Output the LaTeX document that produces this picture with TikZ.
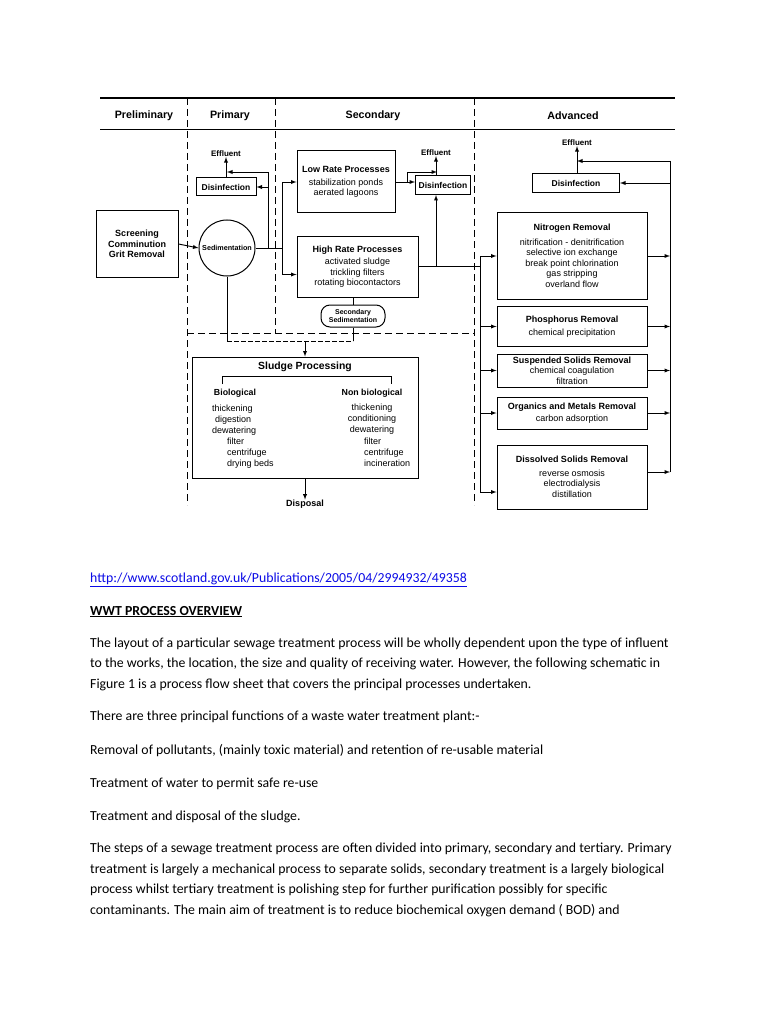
\documentclass[tikz,border=0pt]{standalone}
\usepackage{fontspec}
\setmainfont{Carlito}
\newfontfamily\diagfont{Liberation Sans}
\usepackage{xcolor}
\usepackage{tikz}
\usetikzlibrary{arrows}
\definecolor{urlblue}{RGB}{10,10,230}

\begin{document}
\begin{tikzpicture}[x=1pt,y=-1pt,>=latex,
	box/.style={draw,line width=1pt,inner sep=0pt,align=center,font=\diagfont\fontsize{9}{10.5}\selectfont},
	bbox/.style={box,font=\diagfont\bfseries\fontsize{8.5}{10}\selectfont},
	lbl/.style={inner sep=0pt,font=\diagfont\bfseries\fontsize{8}{9}\selectfont},
	head/.style={inner sep=0pt,font=\diagfont\bfseries\fontsize{10.7}{12}\selectfont},
	item/.style={inner sep=0pt,align=left,font=\diagfont\fontsize{9}{11}\selectfont},
	flow/.style={line width=0.9pt},
	zone/.style={line width=0.8pt,dash pattern=on 7pt off 4pt},
	para/.style={anchor=base west,inner sep=0pt,align=left,font=\fontsize{13.8}{20.5}\selectfont}]
		\useasboundingbox[fill=white] (0,0) rectangle (768,1024);
		%
		\draw[line width=1.4pt] (100,98) -- (675,98);
		\draw[line width=1pt] (100,130) -- (675,130);
		\draw[zone] (187,98) -- (187,505);
		\draw[zone] (275,98) -- (275,333);
		\draw[zone] (187,333) -- (474,333);
		\draw[zone] (474,98) -- (474,505);
		\node[head] (hpre) at (144,116) {Preliminary};
		\node[head] (hpri) at (230,116) {Primary};
		\node[head] (hsec) at (373,116) {Secondary};
		\node[head] (hadv) at (573,116) {Advanced};
		%
		\node[bbox,font=\diagfont\bfseries\fontsize{9}{10.5}\selectfont,minimum width=82pt,minimum height=66pt] (screen) at (137,244) {Screening\\Comminution\\Grit Removal};
		\node[draw,circle,line width=1pt,minimum size=56pt,inner sep=0pt,font=\diagfont\bfseries\fontsize{7.2}{8}\selectfont] (sed) at (227,248) {Sedimentation};
		\node[bbox,minimum width=60pt,minimum height=18pt] (dis1) at (226,187) {Disinfection};
		\node[lbl] (eff1) at (226,154) {Effluent};
		\node[box,minimum width=98pt,minimum height=62pt] (low) at (346,182) {\textbf{Low Rate Processes}\\[2pt]stabilization ponds\\aerated lagoons};
		\node[box,minimum width=121pt,minimum height=61pt] (high) at (357.5,266.5) {\textbf{High Rate Processes}\\[2pt]activated sludge\\trickling filters\\rotating biocontactors};
		\node[bbox,rounded corners=9pt,font=\diagfont\bfseries\fontsize{7}{8.3}\selectfont,minimum width=64pt,minimum height=22pt] (secsed) at (353,316) {Secondary\\Sedimentation};
		\node[bbox,minimum width=55pt,minimum height=19pt] (dis2) at (443,185) {Disinfection};
		\node[lbl] (eff2) at (436,153) {Effluent};
		\node[bbox,minimum width=87pt,minimum height=19pt] (dis3) at (576,183) {Disinfection};
		\node[lbl] (eff3) at (577,143) {Effluent};
		\node[box,minimum width=150pt,minimum height=86pt] (nitro) at (572,256) {\textbf{Nitrogen Removal}\\[4pt]nitrification - denitrification\\selective ion exchange\\break point chlorination\\gas stripping\\overland flow};
		\node[box,minimum width=150pt,minimum height=40pt] (phos) at (572,326.5) {\textbf{Phosphorus Removal}\\[3pt]chemical precipitation};
		\node[box,minimum width=150pt,minimum height=33pt] (susp) at (572,370.5) {\textbf{Suspended Solids Removal}\\chemical coagulation\\filtration};
		\node[box,minimum width=150pt,minimum height=32pt] (org) at (572,413) {\textbf{Organics and Metals Removal}\\[2pt]carbon adsorption};
		\node[box,minimum width=150pt,minimum height=64pt] (diss) at (572,477) {\textbf{Dissolved Solids Removal}\\[3pt]reverse osmosis\\electrodialysis\\distillation};
		%
		\node[box,minimum width=226pt,minimum height=121pt] (sludge) at (305,417.5) {};
		\node[inner sep=0pt,font=\diagfont\bfseries\fontsize{10.4}{12}\selectfont] (sltitle) at (305,367) {Sludge Processing};
		\draw[line width=0.9pt] (222,384) -- (222,376) -- (391,376) -- (391,384);
		\node[lbl,font=\diagfont\bfseries\fontsize{8.8}{10}\selectfont] (bio) at (235,393) {Biological};
		\node[item,anchor=base west] (biolist) at (212,466) {thickening\\\hspace{3pt}digestion\\dewatering\\\hspace{15pt}filter\\\hspace{15pt}centrifuge\\\hspace{15pt}drying beds};
		\node[lbl,font=\diagfont\bfseries\fontsize{8.8}{10}\selectfont] (nonbio) at (372,393) {Non biological};
		\node[item,align=center,anchor=base] (nonlist) at (372,432) {thickening\\conditioning\\dewatering};
		\node[item,anchor=base west] (nonlist2) at (364,466) {filter\\centrifuge\\incineration};
		\node[lbl,font=\diagfont\bfseries\fontsize{9}{10}\selectfont] (disp) at (305,504) {Disposal};
		%
		\coordinate (s1) at (268,248);
		\coordinate (s2) at (282,248);
		\coordinate (e1) at (227,172);
		\coordinate (s3) at (407,182);
		\coordinate (e2) at (437,172);
		\coordinate (r1) at (227,341);
		\coordinate (r2) at (353,341);
		\coordinate (t0) at (480,256);
		\coordinate (tb) at (480,492);
		\coordinate (ct) at (670,161);
		\coordinate (cb) at (670,472);
		%
		\draw[flow,->] (screen.east) -- (sed.west);
		\draw[flow] (sed.east) -- (s2);
		\draw[flow,->] (s1) |- (e1);
		\draw[flow,->] (s1 |- dis1.east) -- (dis1.east);
		\draw[flow,->] (dis1.north) -- (eff1.south);
		\draw[flow,->] (s2) |- (low.west);
		\draw[flow,->] (s2) |- ([yshift=-8pt]high.west);
		\draw[flow] (secsed.north |- high.south) -- (secsed.north);
		\draw[flow] (sed.south) -- (r1);
		\draw[flow,dash pattern=on 5pt off 2pt] (r1) -- (r2);
		\draw[flow] (r2) -- (secsed.south);
		\draw[flow,->] (sludge.north |- r1) -- (sludge.north);
		\draw[flow,->] (sludge.south) -- (disp.north);
		%
		\draw[flow,->] (low.east) -- (low.east -| dis2.west);
		\draw[flow,->] (s3) |- (e2);
		\draw[flow,->] (dis2.north -| eff2) -- (eff2.south);
		\draw[flow] (high.east) -- (high.east -| t0);
		\draw[flow,->] (high.east -| eff2) -- (dis2.south -| eff2);
		%
		\draw[flow] (t0) -- (tb);
		\draw[flow,->] (t0) -- (nitro.west);
		\draw[flow,->] (t0 |- phos.west) -- (phos.west);
		\draw[flow,->] (t0 |- susp.west) -- (susp.west);
		\draw[flow,->] (t0 |- org.west) -- (org.west);
		\draw[flow,->] (tb) -- (tb -| diss.west);
		\draw[flow] (ct) -- (cb);
		\draw[flow,->] (nitro.east) -- (nitro.east -| ct);
		\draw[flow,->] (phos.east) -- (phos.east -| ct);
		\draw[flow,->] (susp.east) -- (susp.east -| ct);
		\draw[flow,->] (org.east) -- (org.east -| ct);
		\draw[flow,->] (cb -| diss.east) -- (cb);
		\draw[flow,->] (ct) -- (ct -| eff3);
		\draw[flow,->] (ct |- dis3.east) -- (dis3.east);
		\draw[flow,->] (dis3.north -| eff3) -- (eff3.south);
		%
		\node[para,text=urlblue] (url) at (90,582) {\underline{http://www.scotland.gov.uk/Publications/2005/04/2994932/49358}};
		\node[para,font=\bfseries\fontsize{13.8}{20.5}\selectfont] (ovw) at (90,615) {\underline{WWT PROCESS OVERVIEW}};
		\node[para] (p1) at (90,688) {The layout of a particular sewage treatment process will be wholly dependent upon the type of influent\\to the works, the location, the size and quality of receiving water. However, the following schematic in\\Figure 1 is a process flow sheet that covers the principal processes undertaken.};
		\node[para] (p2) at (90,720) {There are three principal functions of a waste water treatment plant:-};
		\node[para] (p3) at (90,754) {Removal of pollutants, (mainly toxic material) and retention of re-usable material};
		\node[para] (p4) at (90,787) {Treatment of water to permit safe re-use};
		\node[para] (p5) at (90,820) {Treatment and disposal of the sludge.};
		\node[para] (p6) at (90,914) {The steps of a sewage treatment process are often divided into primary, secondary and tertiary. Primary\\treatment is largely a mechanical process to separate solids, secondary treatment is a largely biological\\process whilst tertiary treatment is polishing step for further purification possibly for specific\\contaminants. The main aim of treatment is to reduce biochemical oxygen demand ( BOD) and};
\end{tikzpicture}
\end{document}
